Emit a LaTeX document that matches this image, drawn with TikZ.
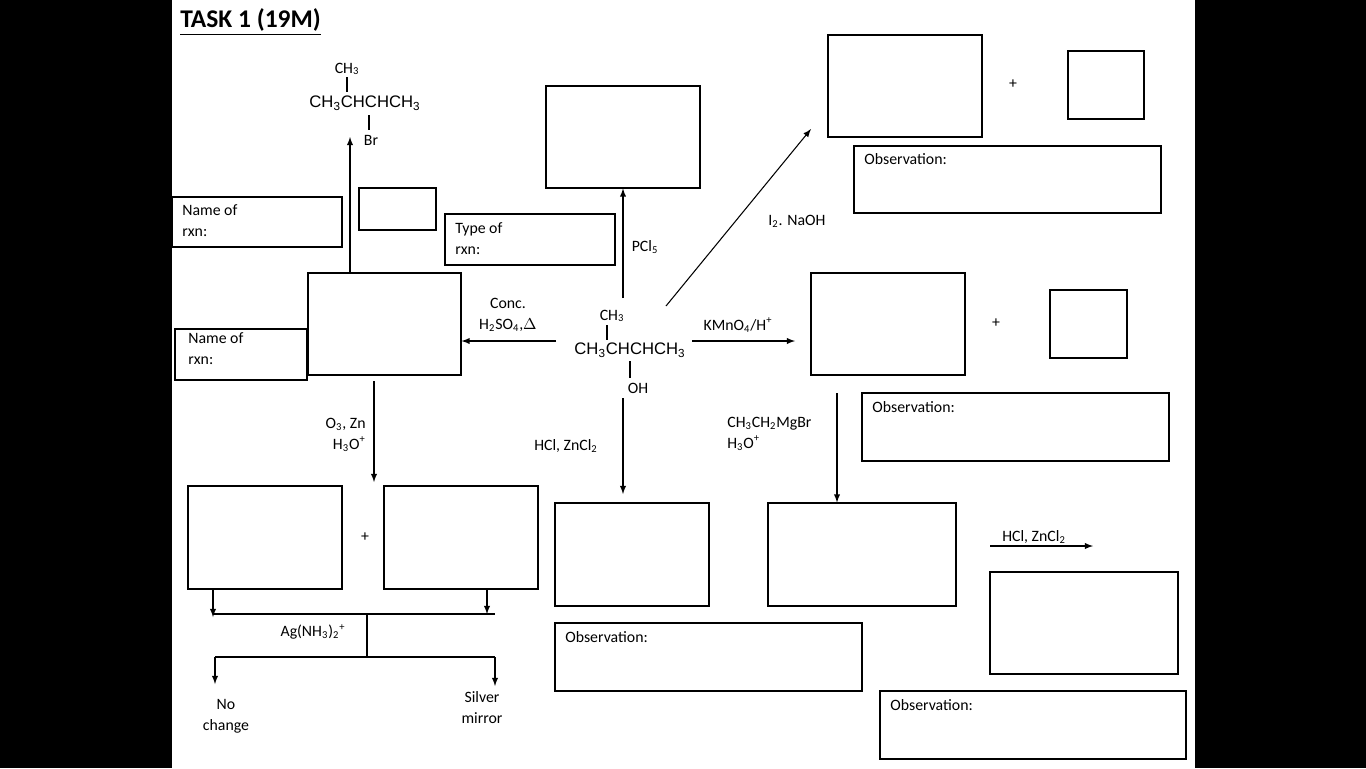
\documentclass[tikz,border=0pt]{standalone}
\usepackage{fontspec}
\setmainfont{Carlito}
\newfontfamily\arialf{Liberation Sans}
\usetikzlibrary{positioning}
\newcommand\sbs[1]{\textsubscript{#1}}
\newcommand\sps[1]{\textsuperscript{#1}}
\begin{document}
\fontsize{9}{12}\selectfont
\begin{tikzpicture}[x=0.02cm,y=-0.02cm,
    box/.style 2 args={draw, line width=0.6pt, minimum width=#1*0.02cm, minimum height=#2*0.02cm, inner sep=0pt},
    txt/.style={inner sep=0pt, align=left, anchor=north west},
    mol/.style={inner sep=1pt, font=\arialf\fontsize{9.5}{11}\selectfont},
    arr/.style={-latex, line width=0.6pt},
    ln/.style={line width=0.6pt}]
    \fill[black] (0,0) rectangle (1366,768);
    \fill[white] (172,0) rectangle (1195,768);

    % title
    \node[anchor=west, inner sep=0pt, font=\fontsize{14.5}{16}\selectfont\bfseries] (title) at (180,22) {\underline{TASK 1 (19M)}};

    % centre alcohol
    \node[mol] (alc) at (630,350) {CH\sbs{3}CHCHCH\sbs{3}};
    \node[inner sep=0pt] (alcme) at (612,316) {CH\sbs{3}};
    \node[inner sep=0pt] (alcoh) at (638,388) {OH};
    \draw[ln] (607,325) -- (607,340);
    \draw[ln] (630,361) -- (630,378);
    \coordinate (cN) at (623,298);
    \coordinate (cS) at (623,398);
    \coordinate (cW) at (556,341);
    \coordinate (cE) at (692,341);
    \coordinate (cNE) at (666,306);

    % bromide
    \node[mol] (brm) at (365,103) {CH\sbs{3}CHCHCH\sbs{3}};
    \node[inner sep=0pt] (brme) at (347,69) {CH\sbs{3}};
    \node[inner sep=0pt] (brbr) at (371,140) {Br};
    \draw[ln] (347,77) -- (347,92);
    \draw[ln] (369,115) -- (369,130);

    % boxes
    \node[box={170}{50}] (name1) at (257,222) {};
    \node[txt] at (182,204) {Name of\\rxn:};
    \node[box={77}{42}] (small1) at (397.5,209) {};
    \node[box={170}{51}] (type1) at (530,239.5) {};
    \node[txt] at (455,222) {Type of\\rxn:};
    \node[box={154}{102}] (pcl) at (623,137) {};
    \node[box={154}{102}] (iod) at (905,86) {};
    \node[inner sep=0pt] (p1) at (1013,84) {+};
    \node[box={76}{68}] (iod2) at (1106,85) {};
    \node[box={307}{67}] (obs1) at (1007.5,179.5) {};
    \node[txt] at (864,153) {Observation:};
    \node[box={154}{102}] (ox) at (888,324) {};
    \node[inner sep=0pt] (p2) at (996,323) {+};
    \node[box={77}{68}] (ox2) at (1088.5,324) {};
    \node[box={307}{68}] (obs2) at (1015.5,427) {};
    \node[txt] at (872,401) {Observation:};
    \node[box={188}{103}] (grig) at (862,554.5) {};
    \node[box={188}{102}] (grcl) at (1084,623) {};
    \node[box={306}{68}] (obs4) at (1033,725) {};
    \node[txt] at (890,699) {Observation:};
    \node[box={154}{103}] (cl) at (632,554.5) {};
    \node[box={307}{68}] (obs3) at (708.5,657) {};
    \node[txt] at (565,631) {Observation:};
    \node[box={153}{102}] (alk) at (384.5,324) {};
    \node[box={132}{51}] (name2) at (241,354.5) {};
    \node[txt] at (188,332) {Name of\\ rxn:};
    \node[box={154}{103}] (ald1) at (265,537.5) {};
    \node[inner sep=0pt] (p3) at (365,537) {+};
    \node[box={154}{103}] (ald2) at (461,537.5) {};

    % reactions
    \draw[arr] (alk.north -| 350,0) -- (350,137);
    \draw[arr] (cN) -- (pcl.south);
    \node[inner sep=0pt] at (645,247) {PCl\sbs{5}};
    \draw[arr] (cNE) -- (811,129);
    \node[inner sep=0pt] at (797,221) {I\sbs{2}. NaOH};
    \draw[arr] (cE) -- (795,341);
    \node[inner sep=0pt] at (738,325) {KMnO\sbs{4}/H\sps{+}};
    \draw[arr] (837,393) -- (grig.north -| 837,0);
    \node[txt] at (727,417) {CH\sbs{3}CH\sbs{2}MgBr\\H\sbs{3}O\sps{+}};
    \coordinate (hclA) at (990,546);
    \draw[arr] (hclA) -- (1093,546);
    \node[inner sep=0pt] at (1034,537) {HCl, ZnCl\sbs{2}};
    \draw[arr] (cS) -- (623,494);
    \node[inner sep=0pt] at (566,446) {HCl, ZnCl\sbs{2}};
    \draw[arr] (cW) -- (cW -| alk.east);
    \node[inner sep=0pt, align=center] at (508,315) {Conc.\\H\sbs{2}SO\sbs{4},$\Delta$};
    \draw[arr] (374,381) -- (374,482);
    \node[inner sep=0pt, align=right, anchor=north east] at (366,418) {O\sbs{3}, Zn\\H\sbs{3}O\sps{+}};

    % tollens test
    \draw[arr] (ald1.south -| 213,0) -- (213,617);
    \draw[arr] (ald2.south -| 487,0) -- (487,614);
    \draw[ln] (213,614) -- (495,614);
    \draw[ln] (367,614) -- (367,657);
    \node[inner sep=0pt] at (313,632) {Ag(NH\sbs{3})\sbs{2}\sps{+}};
    \node[inner sep=0pt, align=center] (noch) at (226,716) {No\\change};
    \node[inner sep=0pt, align=center] (silv) at (482,708) {Silver\\mirror};
    \draw[ln] (215,657) -- (495,657);
    \draw[arr] (215,657) -- (215,684);
    \draw[arr] (495,657) -- (495,686);
\end{tikzpicture}
\end{document}
